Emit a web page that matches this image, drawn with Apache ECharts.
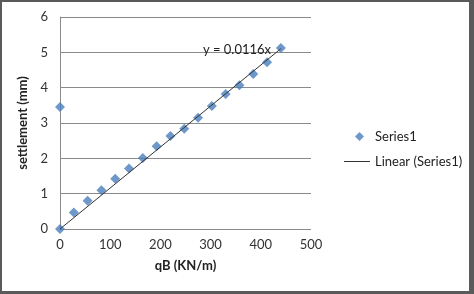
<!DOCTYPE html>
<html>
<head>
<meta charset="utf-8">
<script src="https://cdn.jsdelivr.net/npm/echarts@6/dist/echarts.min.js"></script>
<style>
  html, body { margin: 0; padding: 0; background: #fff; }
  #chart {
    width: 474px; height: 294px; box-sizing: border-box;
    border-style: solid; border-color: #5a5a5a;
    border-width: 2px 5px 3px 2px;
  }
</style>
</head>
<body>
<div id="chart"></div>
<script>
// load qB (KN/m) and settlement (mm)
var qB = [0, 0, 27.5, 55, 82.5, 110, 137.5, 165, 192.5, 220, 247.5, 275, 302.5, 330, 357.5, 385, 412.5, 440];
var settlement = [0, 3.45, 0.47, 0.80, 1.10, 1.42, 1.71, 2.01, 2.34, 2.63, 2.84, 3.15, 3.48, 3.82, 4.07, 4.39, 4.72, 5.12];
var slope = 0.0116;
var trendX = [0, 440];

var points = qB.map(function (x, i) { return [x, settlement[i]]; });
var trend = trendX.map(function (x) { return [x, slope * x]; });

var myChart = echarts.init(document.getElementById('chart'));
var font = 'Lato, "Open Sans", sans-serif';

myChart.setOption({
    animation: false,
    textStyle: { fontFamily: font },
    grid: { left: 58, right: 158, top: 15, bottom: 62 },
    legend: [
        {
            // diamond marker
            left: 348, top: 123,
            itemWidth: 9, itemHeight: 9,
            icon: 'diamond',
            textStyle: { fontFamily: font, fontSize: 13, color: '#222', padding: [0, 0, 0, 6] },
            data: ['Series1']
        },
        {
            left: 337, top: 148,
            itemWidth: 26, itemHeight: 1,
            icon: 'rect',
            textStyle: { fontFamily: font, fontSize: 13, color: '#222' },
            data: ['Linear (Series1)']
        }
    ],
    xAxis: {
        type: 'value', min: 0, max: 500, interval: 100,
        name: 'qB (KN/m)', nameLocation: 'middle', nameGap: 30,
        nameTextStyle: { fontFamily: font, fontSize: 13, fontWeight: 'bold', color: '#222' },
        axisLine: { show: false },
        axisTick: { show: false },
        splitLine: { show: false },
        axisLabel: { fontFamily: font, fontSize: 13, color: '#333', margin: 9 }
    },
    yAxis: {
        type: 'value', min: 0, max: 6, interval: 1,
        name: 'settlement (mm)', nameLocation: 'middle', nameGap: 24,
        nameTextStyle: { fontFamily: font, fontSize: 13, fontWeight: 'bold', color: '#222' },
        axisLine: { show: true, lineStyle: { color: '#8a8a8a', width: 1 } },
        axisTick: { show: false },
        splitLine: { lineStyle: { color: '#8a8a8a', width: 1 } },
        axisLabel: { fontFamily: font, fontSize: 13, color: '#333', margin: 12 }
    },
    series: [
        {
            name: 'Linear (Series1)',
            type: 'line',
            data: trend,
            symbol: 'none',
            lineStyle: { color: '#333', width: 1 },
            itemStyle: { color: '#333' },
            z: 3,
            endLabel: {
                show: true,
                formatter: 'y = 0.0116x',
                fontFamily: font, fontSize: 13, color: '#222',
                offset: [-86, 1]
            }
        },
        {
            name: 'Series1',
            type: 'scatter',
            data: points,
            symbol: 'diamond',
            symbolSize: 10,
            itemStyle: { color: '#4a7ebb' },
            z: 2
        }
    ]
});
</script>
</body>
</html>
